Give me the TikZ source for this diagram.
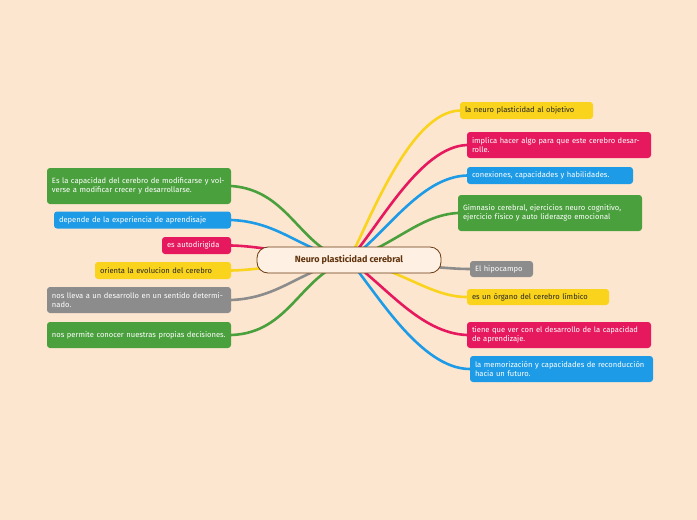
\documentclass[tikz,border=0pt]{standalone}
\usepackage{fontspec}
\setmainfont{Fira Sans}
\begin{document}
\begin{tikzpicture}[x=1pt,y=-1pt,
  bx/.style={rounded corners=3pt,inner xsep=5pt,inner ysep=1pt,align=left,font=\fontsize{7.6}{8.6}\selectfont,text=white,anchor=center},
  ln/.style={line width=2.6pt,line cap=round}]
\definecolor{cg}{HTML}{4BA03E}\definecolor{cb}{HTML}{1E9BE6}\definecolor{cr}{HTML}{E6195F}
\definecolor{cy}{HTML}{F9D31C}\definecolor{cgr}{HTML}{8C8C8C}\definecolor{bg}{HTML}{FDE6D0}
\definecolor{cbr}{HTML}{6B3A10}
\fill[bg] (0,0) rectangle (697,520);
\useasboundingbox (0,0) rectangle (697,520);
\newcommand{\bxx}[8]{\node[bx,fill=#2,text=#8,minimum width=#5,minimum height=#6,text width=#5-10] (#1) at (#3,#4) {#7};}
% left
\bxx{l1}{cg}{139}{186}{184}{36}{Es la capacidad del cerebro de modificarse y volverse a modificar crecer y desarrollarse.}{white}
\bxx{l2}{cb}{142.5}{220}{177}{17}{depende de la experiencia de aprendisaje}{white}
\bxx{l3}{cr}{196.5}{245.5}{69}{17}{es autodirigida}{white}
\bxx{l4}{cy}{163}{270.5}{136}{17}{orienta la evolucion del cerebro}{black!85}
\bxx{l5}{cgr}{139}{300}{184}{26}{nos lleva a un desarrollo en un sentido determinado.}{white}
\bxx{l6}{cg}{139}{335}{184}{26}{nos permite conocer nuestras propias decisiones.}{white}
% right
\bxx{r1}{cy}{526.5}{110.5}{133}{17}{la neuro plasticidad al objetivo}{black!85}
\bxx{r2}{cr}{559}{145}{184}{26}{implica hacer algo para que este cerebro desarrolle.}{white}
\bxx{r3}{cb}{550}{175.5}{166}{17}{conexiones, capacidades y habilidades.}{white}
\bxx{r4}{cg}{550}{213}{184}{36}{Gimnasio cerebral, ejercicios neuro cognitivo, ejercicio físico y auto liderazgo emocional}{white}
\bxx{r5}{cgr}{501.5}{269}{63}{16}{El hipocampo}{white}
\bxx{r6}{cy}{538}{297}{142}{16}{es un órgano del cerebro límbico}{black!85}
\bxx{r7}{cr}{559}{335}{184}{26}{tiene que ver con el desarrollo de la capacidad de aprendizaje.}{white}
\bxx{r8}{cb}{561.5}{369}{183}{26}{la memorización y capacidades de reconducción hacia un futuro.}{white}
\coordinate (c) at (349,260);
% left connectors
\draw[ln,cg] (c) .. controls (300,250) and (290,190) .. (l1.east);
\draw[ln,cb] (c) .. controls (300,250) and (280,222) .. (l2.east);
\draw[ln,cr] (c) .. controls (300,255) and (260,246) .. (l3.east);
\draw[ln,cy] (c) .. controls (300,262) and (260,270) .. (l4.east);
\draw[ln,cgr] (c) .. controls (300,270) and (280,298) .. (l5.east);
\draw[ln,cg] (c) .. controls (300,275) and (290,333) .. (l6.east);
% right connectors
\draw[ln,cy] (c) .. controls (370,220) and (410,112) .. (r1.west);
\draw[ln,cr] (c) .. controls (380,225) and (420,147) .. (r2.west);
\draw[ln,cb] (c) .. controls (385,235) and (420,177) .. (r3.west);
\draw[ln,cg] (c) .. controls (395,245) and (420,215) .. (r4.west);
\draw[ln,cgr] (c) .. controls (400,262) and (440,269) .. (r5.west);
\draw[ln,cy] (c) .. controls (400,268) and (430,297) .. (r6.west);
\draw[ln,cr] (c) .. controls (385,285) and (420,333) .. (r7.west);
\draw[ln,cb] (c) .. controls (375,290) and (420,369) .. (r8.west);
\node[draw=cbr,fill=bg!60!white,rounded corners=11pt,line width=0.8pt,minimum width=184,minimum height=26,text=cbr!90!black,font=\fontsize{9}{10}\selectfont\bfseries] (ctr) at (349,260) {Neuro plasticidad cerebral};
\end{tikzpicture}
\end{document}
